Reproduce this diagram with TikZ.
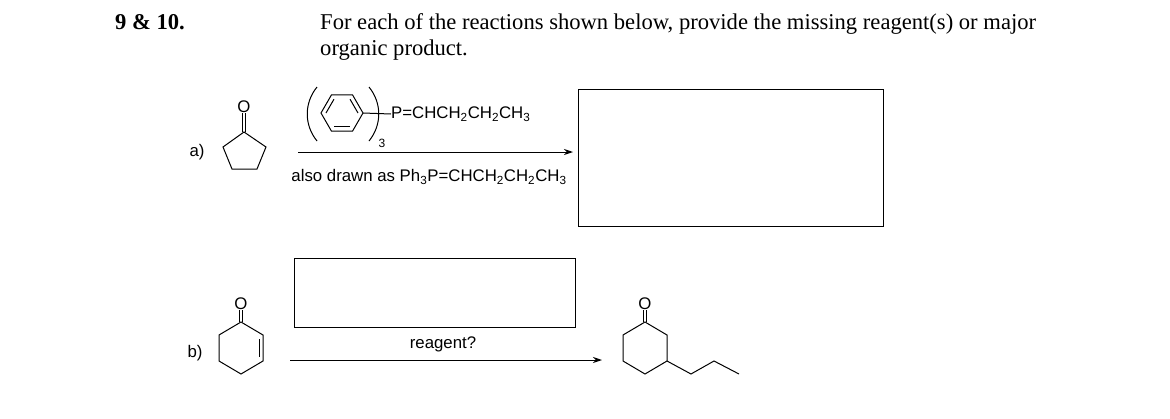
\documentclass[tikz,border=0pt]{standalone}
\usepackage{fontspec}
\setmainfont{Liberation Serif}
\newfontfamily\arial{Liberation Sans}
\usetikzlibrary{arrows.meta,calc}
\newcommand{\sbs}[1]{\textsubscript{#1}}
\begin{document}
\begin{tikzpicture}[x=1pt,y=-1pt,
  bond/.style={line width=1pt},
  chem/.style={font=\arial\fontsize{16.8}{19}\selectfont,inner sep=0pt},
  rxn/.style={line width=1pt,-{Stealth[length=9pt,width=6pt]}},
  answer/.style={draw,line width=1pt}]
\useasboundingbox (0,0) rectangle (1170,418);
% header
\node[anchor=base west,inner sep=0pt,font=\bfseries\fontsize{22.6}{27}\selectfont] (num) at (115,29) {9 \& 10.};
\node[anchor=base west,inner sep=0pt,font=\fontsize{22.6}{27}\selectfont] (q1) at (320,29) {For each of the reactions shown below, provide the missing reagent(s) or major};
\node[anchor=base west,inner sep=0pt,font=\fontsize{22.6}{27}\selectfont] (q2) at (320,55) {organic product.};
% a) cyclopentanone
\node[chem] (la) at (197,152) {a)};
\coordinate (p1) at (244,132); \coordinate (p2) at (266,147);
\coordinate (p3) at (257,169); \coordinate (p4) at (232,169); \coordinate (p5) at (223,147);
\node[chem] (Oa) at (244,107) {O};
\draw[bond] (p1)--(p2)--(p3)--(p4)--(p5)--cycle;
\draw[bond] ([xshift=-1.6]p1)--([xshift=-1.6]Oa.south) ([xshift=1.6]p1)--([xshift=1.6]Oa.south);
% phenyl reagent
\coordinate (bc) at (342,113);
\draw[bond] ($(bc)+(0:21)$) -- ($(bc)+(60:21)$) -- ($(bc)+(120:21)$) -- ($(bc)+(180:21)$) -- ($(bc)+(240:21)$) -- ($(bc)+(300:21)$) -- cycle;
\draw[bond] ($(bc)+(60:16)$) -- ($(bc)+(120:16)$);
\draw[bond] ($(bc)+(180:16)$) -- ($(bc)+(240:16)$);
\draw[bond] ($(bc)+(300:16)$) -- ($(bc)+(0:16)$);
\draw[bond] (317,87) .. controls (304,103) and (304,125) .. (317,141);
\draw[bond] (369,87) .. controls (382,103) and (382,125) .. (369,141);
\node[chem,font=\arial\fontsize{12}{13}\selectfont] (three) at (382,143) {3};
\node[chem,anchor=west] (ylide) at (391,114) {P=CHCH\sbs{2}CH\sbs{2}CH\sbs{3}};
\draw[bond] ($(bc)+(0:21)$) -- (ylide.west);
\coordinate (a1) at (298,152); \coordinate (a2) at (573,152);
\draw[rxn] (a1) -- (a2);
\node[chem] (also) at (429,177) {also drawn as Ph\sbs{3}P=CHCH\sbs{2}CH\sbs{2}CH\sbs{3}};
\node[answer,minimum width=305pt,minimum height=137pt,anchor=north west] (boxa) at (578,89) {};
% b) cyclohexenone
\node[chem] (lb) at (195,353) {b)};
\coordinate (h1) at (241,322); \coordinate (h2) at (263,335); \coordinate (h3) at (263,361);
\coordinate (h4) at (241,374); \coordinate (h5) at (219,361); \coordinate (h6) at (219,335);
\draw[bond] (h1)--(h2)--(h3)--(h4)--(h5)--(h6)--cycle;
\draw[bond] ($(h2)+(-4,4)$) -- ($(h3)+(-4,-4)$);
\node[chem] (Ob) at (241,304) {O};
\draw[bond] ([xshift=-1.6]h1)--([xshift=-1.6]Ob.south) ([xshift=1.6]h1)--([xshift=1.6]Ob.south);
\node[answer,minimum width=281pt,minimum height=69pt,anchor=north west] (boxb) at (294,258) {};
\coordinate (b1) at (290,360); \coordinate (b2) at (602,360);
\draw[rxn] (b1) -- (b2);
\node[chem] (reag) at (443,344) {reagent?};
% product
\coordinate (k1) at (645,322); \coordinate (k2) at (667,335); \coordinate (k3) at (667,361);
\coordinate (k4) at (645,374); \coordinate (k5) at (623,361); \coordinate (k6) at (623,335);
\draw[bond] (k1)--(k2)--(k3)--(k4)--(k5)--(k6)--cycle;
\node[chem] (Oc) at (645,304) {O};
\draw[bond] ([xshift=-1.6]k1)--([xshift=-1.6]Oc.south) ([xshift=1.6]k1)--([xshift=1.6]Oc.south);
\coordinate (s1) at (691,374); \coordinate (s2) at (714,361); \coordinate (s3) at (739,374);
\draw[bond] (k3)--(s1)--(s2)--(s3);
\end{tikzpicture}
\end{document}
